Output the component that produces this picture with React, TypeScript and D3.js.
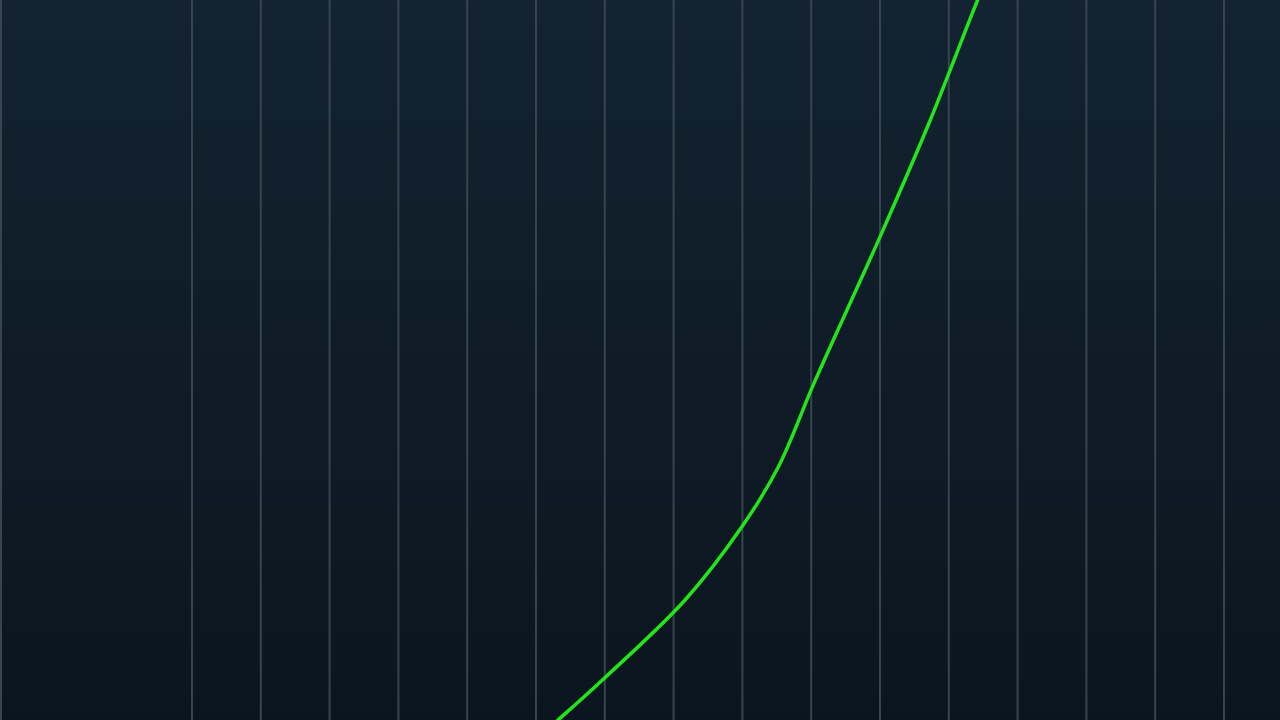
import React from "react";
import * as d3 from "d3";

const W = 1280;
const H = 720;

// vertical grid positions (in x data units)
const gridTicks = [-2.78, 0, 1, 2, 3, 4, 5, 6, 7, 8, 9, 10, 11, 12, 13, 14, 15];

// curve points (x in grid units, y in percent of height)
const curveX = [4.99, 5.32, 5.97, 7.17, 7.99, 8.52, 9.06, 10.0, 10.73, 11.42, 11.52];
const curveY = [-2.8, 0, 5.6, 16.7, 26.8, 35.1, 47.2, 67.1, 83.3, 100, 102.1];

export default function App() {
  const x = d3.scaleLinear().domain([-2.7907, 15.814]).range([0, W]);
  const y = d3.scaleLinear().domain([0, 100]).range([H, 0]);
  const pts: [number, number][] = curveX.map((v, i) => [v, curveY[i]]);
  const line = d3
    .line<[number, number]>()
    .x((d) => x(d[0]))
    .y((d) => y(d[1]))
    .curve(d3.curveCatmullRom.alpha(0.5));
  return (
    <svg
      width={W}
      height={H}
      style={{ position: "fixed", top: 0, left: 0, display: "block" }}
    >
      <defs>
        <linearGradient id="bg" x1="0" y1="0" x2="0" y2="1">
          <stop offset="0" stopColor="#132331" />
          <stop offset="1" stopColor="#0b151e" />
        </linearGradient>
      </defs>
      <rect x={0} y={0} width={W} height={H} fill="url(#bg)" />
      {gridTicks.map((t, i) => (
        <line
          key={i}
          x1={Math.max(1, x(t))}
          x2={Math.max(1, x(t))}
          y1={0}
          y2={H}
          stroke="#36454f"
          strokeWidth={2}
        />
      ))}
      <path d={line(pts) || ""} fill="none" stroke="#22e61b" strokeWidth={3.5} strokeLinecap="round" />
    </svg>
  );
}
